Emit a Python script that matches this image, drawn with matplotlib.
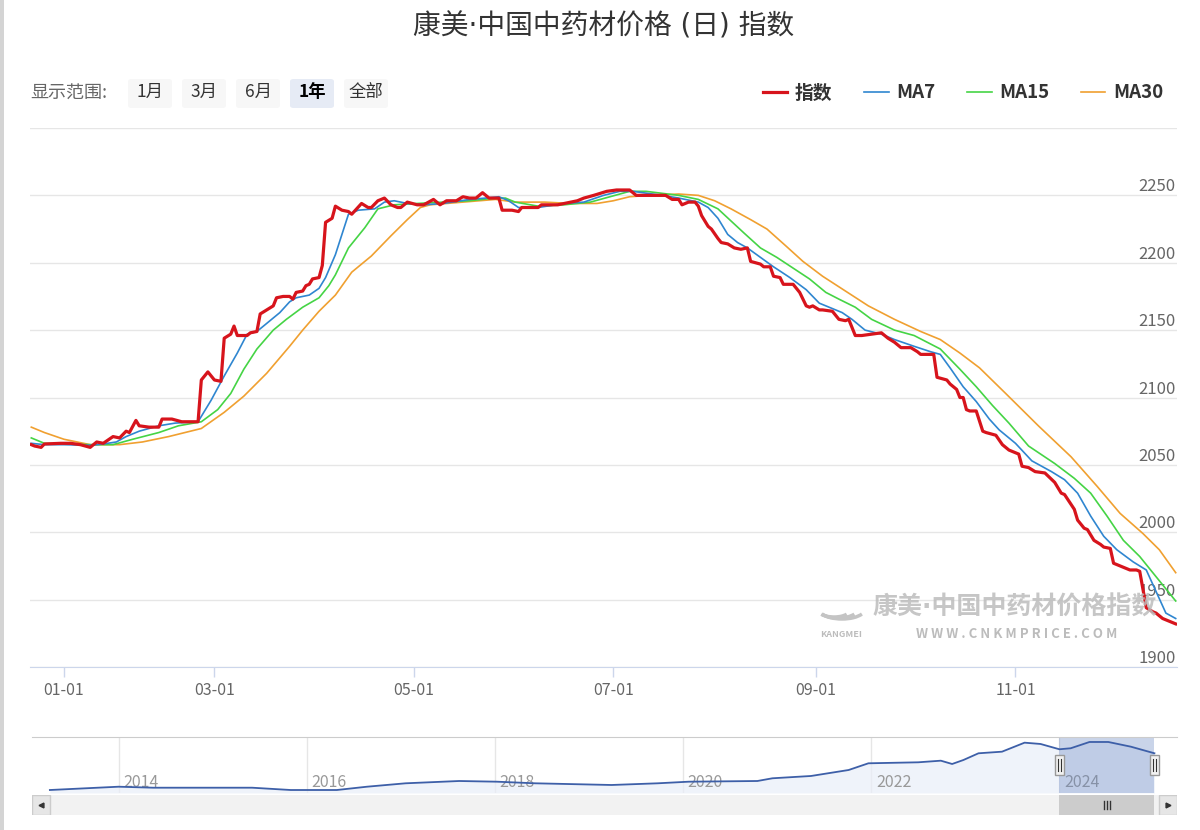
import matplotlib.pyplot as plt
import matplotlib.patches as mpatches

plt.rcParams["font.family"] = ["Noto Sans CJK SC", "DejaVu Sans"]
latin_first = ["DejaVu Sans", "Noto Sans CJK SC"]

# main index (day position on the ordinal axis, value)
idx_day = [-10, -9, -7, -6, -1, 2, 5, 8, 10, 12, 15, 17, 19, 20, 22, 23, 26, 29, 30, 33,
           36, 41, 42, 44, 46, 48, 49, 51, 52, 53, 56, 57, 59, 60, 62, 64, 65, 67, 69, 70,
           71, 73, 74, 75, 76, 78, 79, 80, 82, 83, 85, 87, 88, 91, 93, 94, 96, 98, 100, 102,
           103, 105, 108, 110, 113, 115, 117, 120, 122, 124, 126, 128, 130, 133, 134, 137,
           139, 140, 145, 146, 151, 155, 157, 159, 162, 166, 169, 173, 175, 179, 184, 186,
           188, 189, 191, 193, 194, 195, 197, 198, 200, 201, 203, 205, 207, 209, 210, 213,
           214, 216, 217, 219, 220, 223, 225, 227, 228, 229, 231, 232, 235, 237, 239, 240,
           242, 244, 247, 250, 252, 254, 256, 259, 261, 262, 266, 267, 270, 271, 273, 274,
           275, 276, 277, 279, 281, 282, 285, 287, 289, 292, 293, 295, 297, 300, 303, 305,
           306, 309, 310, 312, 313, 315, 317, 318, 320, 321, 323, 326, 328, 329, 331, 333,
           334, 336, 337, 339, 340]
idx_val = [2065, 2064, 2063, 2065.5, 2066, 2066, 2065, 2063, 2067, 2066, 2071, 2070, 2075, 2074,
           2083, 2079, 2078, 2078, 2084, 2084, 2082, 2082, 2113, 2119, 2113, 2112, 2144, 2147,
           2153, 2146, 2146, 2148, 2149, 2162, 2165, 2168, 2174, 2175, 2175, 2173, 2178, 2179,
           2183, 2184, 2188, 2189, 2198, 2230, 2233, 2242, 2239, 2238, 2236, 2244, 2241, 2241,
           2246, 2248, 2243, 2241, 2241, 2245, 2243, 2243, 2247, 2243, 2246, 2246, 2249, 2248,
           2248, 2252, 2248, 2248, 2239, 2239, 2238, 2241, 2241, 2243, 2243, 2245, 2246, 2248,
           2250, 2253, 2254, 2254, 2250, 2250, 2250, 2247, 2247, 2243, 2245, 2245, 2242, 2235,
           2227, 2225, 2218, 2215, 2214, 2211, 2210, 2211, 2201, 2199, 2197, 2197, 2190, 2189,
           2184, 2184, 2178, 2168, 2167, 2168, 2165, 2165, 2164, 2158, 2157, 2158, 2146, 2146,
           2147, 2148, 2144, 2141, 2137, 2137, 2134, 2132, 2132, 2115, 2113, 2110, 2106, 2100,
           2100, 2091, 2090, 2090, 2075, 2074, 2072, 2065, 2061, 2058, 2049, 2048, 2045, 2044,
           2037, 2029, 2028, 2017, 2009, 2003, 2002, 1994, 1991, 1989, 1988, 1977, 1975, 1972,
           1972, 1971, 1944, 1941, 1940, 1936, 1935, 1933, 1932]

ma7_day = [-10, -6, 0, 8, 12, 16, 19, 23, 29, 34, 41, 45, 49, 53, 56, 59, 62, 66, 69, 71, 75,
           78, 80, 83, 87, 90, 95, 98, 101, 105, 110, 116, 124, 129, 133, 136, 139, 145, 153,
           159, 165, 170, 174, 183, 188, 194, 197, 200, 203, 206, 209, 213, 217, 222, 227, 231,
           234, 238, 241, 245, 250, 254, 260, 265, 268, 271, 275, 279, 283, 286, 291, 296, 302,
           306, 310, 314, 318, 322, 327, 331, 334, 337, 340]
ma7_val = [2066, 2065, 2065, 2064.5, 2065.5, 2067, 2071, 2075, 2079, 2081, 2082, 2098, 2116,
           2133, 2147, 2149, 2155, 2163, 2171, 2174, 2176, 2181, 2189, 2206, 2236, 2239, 2240,
           2245, 2246, 2244, 2243, 2244, 2247, 2248, 2249, 2246, 2241, 2241, 2244, 2245, 2250,
           2253, 2253, 2250, 2248, 2245, 2241, 2233, 2221, 2215, 2211, 2204, 2197, 2189, 2180,
           2170, 2167, 2163, 2158, 2150, 2147, 2143, 2138, 2134, 2132, 2122, 2108, 2097, 2084,
           2076, 2066, 2053, 2045, 2039, 2029, 2012, 1997, 1987, 1978, 1972, 1956, 1940, 1936]

ma15_day = [-10, -6, 8, 15, 21, 29, 35, 42, 47, 51, 55, 59, 64, 68, 73, 78, 81, 83, 87, 92, 96,
            101, 108, 116, 124, 132, 135, 138, 145, 153, 161, 167, 173, 178, 188, 194, 200, 204,
            208, 213, 218, 223, 228, 233, 237, 242, 247, 254, 260, 268, 274, 279, 284, 289, 295,
            303, 309, 314, 319, 324, 329, 334, 340]
ma15_val = [2070, 2066, 2065, 2065, 2069, 2074, 2079, 2082, 2091, 2103, 2121, 2136, 2150, 2158,
            2167, 2174, 2183, 2191, 2211, 2226, 2240, 2243, 2244, 2245, 2246, 2248, 2248, 2245,
            2242, 2243, 2245, 2249, 2253, 2253, 2250, 2247, 2240, 2231, 2222, 2211, 2204, 2196,
            2188, 2178, 2173, 2167, 2158, 2150, 2146, 2136, 2121, 2108, 2094, 2081, 2064, 2051,
            2040, 2029, 2012, 1994, 1982, 1967, 1949]

ma30_day = [-10, -6, 0, 8, 17, 24, 32, 42, 49, 55, 62, 69, 73, 78, 83, 88, 94, 100, 105, 109,
            112, 122, 132, 138, 147, 155, 163, 168, 173, 179, 188, 194, 199, 204, 210, 215, 221,
            226, 232, 239, 246, 254, 262, 268, 274, 280, 288, 298, 308, 316, 323, 330, 335, 340]
ma30_val = [2078, 2074, 2069, 2065, 2065, 2067, 2071, 2077, 2089, 2101, 2118, 2138, 2150, 2164,
            2176, 2193, 2205, 2220, 2232, 2241, 2243, 2245, 2247, 2245, 2245, 2244, 2244, 2246,
            2249, 2250, 2251, 2250, 2246, 2240, 2232, 2225, 2212, 2201, 2190, 2179, 2168, 2158,
            2149, 2143, 2133, 2122, 2103, 2079, 2056, 2034, 2014, 1999, 1987, 1970]

tick_pos = [0, 46, 107, 168, 230, 291]
tick_labels = ["01-01", "03-01", "05-01", "07-01", "09-01", "11-01"]

# navigator: whole history
nav_year = [2013.27, 2014.0, 2014.37, 2015.42, 2015.83, 2016.32, 2016.64, 2017.05, 2017.62,
            2018.02, 2018.43, 2019.24, 2019.73, 2020.06, 2020.79, 2020.95, 2021.36, 2021.76,
            2021.97, 2022.5, 2022.74, 2022.86, 2022.98, 2023.14, 2023.39, 2023.63, 2023.8,
            2024.0, 2024.12, 2024.32, 2024.52, 2024.76, 2025.01]
nav_val = [856, 952, 923, 923, 856, 856, 952, 1051, 1118, 1098, 1051, 1002, 1051, 1098, 1118,
           1197, 1264, 1438, 1633, 1662, 1709, 1613, 1729, 1924, 1971, 2233, 2195, 2041, 2070,
           2253, 2253, 2116, 1924]
nav_years = [2014, 2016, 2018, 2020, 2022, 2024]
sel_start, sel_end = 2024.0, 2025.01

buttons = ["1月", "3月", "6月", "1年", "全部"]


def fx(px):
    return px / 1200


def fy(py):
    return 1 - py / 830


fig = plt.figure(figsize=(12, 8.3), dpi=100)

# main chart
ax = fig.add_axes([fx(30), fy(667), fx(1147), 539 / 830])
ax.plot(ma30_day, ma30_val, color="#f0a030", lw=1.2, label="MA30", zorder=2)
ax.plot(ma15_day, ma15_val, color="#45d445", lw=1.2, label="MA15", zorder=3)
ax.plot(ma7_day, ma7_val, color="#2f86d0", lw=1.2, label="MA7", zorder=4)
ax.plot(idx_day, idx_val, color="#d7141c", lw=2.3, label="指数", zorder=5,
        solid_joinstyle="round")

ax.set_xlim(-10.4, 340.4)
ax.set_ylim(1900, 2300)
yt = list(range(1900, 2301, 50))
ax.set_yticks(yt)
ax.set_yticklabels([str(v) if v < 2300 else "" for v in yt])
ax.yaxis.tick_right()
ax.tick_params(axis="y", length=0, pad=-1, labelsize=12, labelcolor="#666666")
for lab in ax.get_yticklabels():
    lab.set_horizontalalignment("right")
    lab.set_verticalalignment("bottom")
ax.grid(axis="y", color="#e6e6e6", lw=1)
ax.set_axisbelow(True)
ax.set_xticks(tick_pos)
ax.set_xticklabels(tick_labels)
ax.tick_params(axis="x", direction="out", length=7, width=1, color="#ccd6eb",
               labelcolor="#666666", labelsize=11.5, pad=4)
for s in ["top", "left", "right"]:
    ax.spines[s].set_visible(False)
ax.spines["bottom"].set_color("#ccd6eb")

h, l = ax.get_legend_handles_labels()
order = [3, 2, 1, 0]
leg = ax.legend([h[i] for i in order], [l[i] for i in order], loc="center right",
                bbox_to_anchor=(fx(1180), fy(93)), bbox_transform=fig.transFigure,
                ncol=4, frameon=False, prop={"weight": "bold", "size": 13.5},
                handlelength=1.3, handletextpad=0.4, columnspacing=1.7)
for t in leg.get_texts():
    t.set_color("#333333")

# watermark
fig.text(fx(1015), fy(608), "康美·中国中药材价格指数", ha="center", va="center",
         fontsize=18, weight="bold", color="#bcbcbc", alpha=0.85, zorder=10,
         family=latin_first)
fig.text(fx(841), fy(634), "KANGMEI", ha="center", va="center", fontsize=6.5,
         weight="bold", color="#bcbcbc", zorder=10)
fig.text(fx(1017), fy(634), "W W W . C N K M P R I C E . C O M", ha="center",
         va="center", fontsize=9.5, weight="bold", color="#bcbcbc", zorder=10)
for k in range(3):
    fig.patches.append(mpatches.Arc((fx(842 - 4 * k), fy(609 + k)), fx(46 - 8 * k),
                                    (20 - 4 * k) / 830, theta1=200, theta2=340,
                                    transform=fig.transFigure, color="#c4c4c4", lw=2.5))

# title and range selector
fig.text(fx(604), fy(27), "康美·中国中药材价格 (日) 指数", ha="center", va="center",
         fontsize=20, color="#333333", family=latin_first)
fig.text(fx(30), fy(93), "显示范围:", ha="left", va="center", fontsize=13, color="#666666")
for i, b in enumerate(buttons):
    cx = 150 + 54 * i
    active = b == "1年"
    fig.patches.append(mpatches.FancyBboxPatch(
        (fx(cx - 22), fy(108)), fx(44), 29 / 830,
        boxstyle="round,pad=0,rounding_size=0.003", transform=fig.transFigure,
        facecolor="#e6ebf5" if active else "#f7f7f7", edgecolor="none"))
    fig.text(fx(cx), fy(92), b, ha="center", va="center", fontsize=12.5,
             color="#000000" if active else "#333333",
             weight="bold" if active else "normal")

# navigator
nav = fig.add_axes([fx(32), fy(793), fx(1145), 56 / 830])
nav.set_xlim(2013.08, 2025.25)
nav.set_ylim(769, 2398)
nav.fill_between(nav_year, nav_val, 769, color="#e9eef8", alpha=0.7, lw=0)
nav.plot(nav_year, nav_val, color="#3d5fa8", lw=1.3, zorder=3)
for yr in nav_years:
    nav.axvline(yr, color="#e6e6e6", lw=1, zorder=0)
    nav.text(yr + 0.05, 0.18, str(yr), transform=nav.get_xaxis_transform(), ha="left",
             va="center", fontsize=11.5, color="#999999", zorder=1)
nav.axvspan(sel_start, sel_end, color="#6685c2", alpha=0.35, lw=0, zorder=2)
for xh in (sel_start, sel_end):
    nav.add_patch(mpatches.Rectangle((xh - 0.045, 0.32), 0.09, 0.36,
                                     transform=nav.get_xaxis_transform(),
                                     facecolor="#f2f2f2", edgecolor="#999999", lw=1,
                                     zorder=5))
    for dx in (-0.012, 0.012):
        nav.plot([xh + dx, xh + dx], [0.4, 0.6], transform=nav.get_xaxis_transform(),
                 color="#333333", lw=0.8, zorder=6)
nav.set_xticks([])
nav.set_yticks([])
for s in ["left", "right", "bottom"]:
    nav.spines[s].set_visible(False)
nav.spines["top"].set_color("#cccccc")

# scrollbar
sb = fig.add_axes([fx(32), fy(815), fx(1145), 20 / 830])
sb.set_xlim(2013.08, 2025.25)
sb.set_ylim(0, 1)
sb.axis("off")
sb.add_patch(mpatches.Rectangle((0, 0), 1, 1, transform=sb.transAxes,
                                facecolor="#f2f2f2", edgecolor="none"))
sb.axvspan(sel_start, sel_end, color="#cccccc", lw=0)
mid = (sel_start + sel_end) / 2
for dx in (-0.035, 0, 0.035):
    sb.plot([mid + dx, mid + dx], [0.3, 0.7], color="#333333", lw=1)
for x0 in (0, 1 - 18 / 1145):
    sb.add_patch(mpatches.Rectangle((x0, 0), 18 / 1145, 1, transform=sb.transAxes,
                                    facecolor="#e6e6e6", edgecolor="#cccccc", lw=1))
sb.plot([9 / 1145], [0.5], marker="<", ms=3.5, color="#333333", transform=sb.transAxes)
sb.plot([1 - 9 / 1145], [0.5], marker=">", ms=3.5, color="#333333",
        transform=sb.transAxes)

# screenshot border on the left
fig.patches.append(mpatches.Rectangle((0, 0), fx(4), 1, transform=fig.transFigure,
                                      facecolor="#d4d4d4", edgecolor="none"))

fig.savefig("out.png", dpi=100)
